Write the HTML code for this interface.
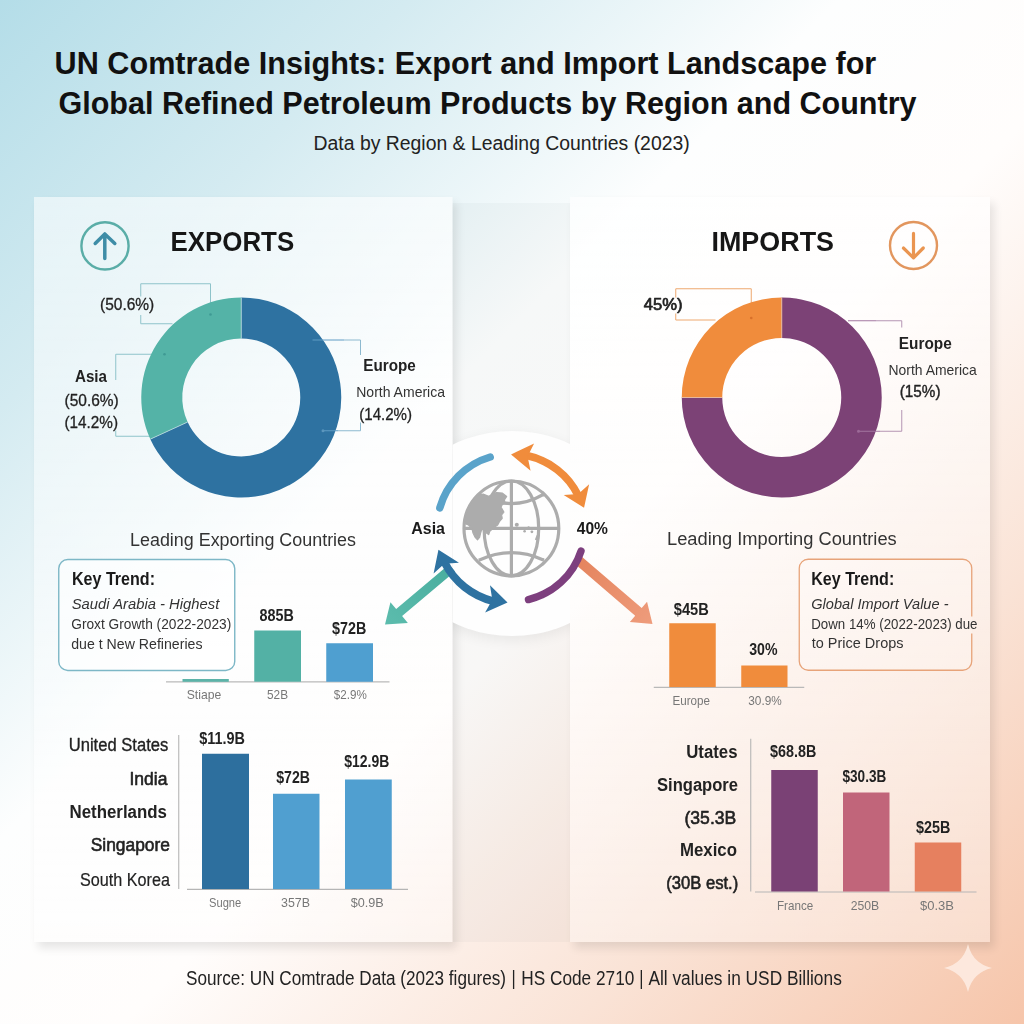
<!DOCTYPE html>
<html lang="en"><head><meta charset="utf-8"><title>UN Comtrade Insights</title>
<style>
html,body{margin:0;padding:0;width:1024px;height:1024px;overflow:hidden;background:#fff}
svg{display:block;position:absolute;left:0;top:0}
text{font-family:"Liberation Sans",sans-serif}
</style></head><body>
<svg width="1024" height="1024" viewBox="0 0 1024 1024">
<defs>
<linearGradient id="gb" gradientUnits="userSpaceOnUse" x1="0" y1="0" x2="1024" y2="1024"><stop offset="0" stop-color="#b4dde8"/><stop offset="0.2" stop-color="#d4ebf1"/><stop offset="0.41" stop-color="#fdfefe"/><stop offset="0.56" stop-color="#fffdfc"/><stop offset="0.78" stop-color="#fae3d6"/><stop offset="1" stop-color="#f6c5aa"/></linearGradient>
<filter id="sh" x="-10%" y="-10%" width="120%" height="120%"><feGaussianBlur in="SourceAlpha" stdDeviation="5"/><feOffset dx="4" dy="6"/><feComponentTransfer><feFuncA type="linear" slope="0.10"/></feComponentTransfer></filter>
<filter id="shc" x="-20%" y="-20%" width="140%" height="140%"><feGaussianBlur in="SourceAlpha" stdDeviation="7"/><feOffset dx="0" dy="4"/><feComponentTransfer><feFuncA type="linear" slope="0.07"/></feComponentTransfer></filter>
<linearGradient id="gc" x1="0" y1="0" x2="0" y2="1"><stop offset="0" stop-color="#fff" stop-opacity="0.57"/><stop offset="1" stop-color="#fff" stop-opacity="0.33"/></linearGradient>
<linearGradient id="gt" gradientUnits="userSpaceOnUse" x1="450" y1="570" x2="385" y2="625"><stop offset="0" stop-color="#4aae9f"/><stop offset="1" stop-color="#5cbcad"/></linearGradient>
<linearGradient id="gs" gradientUnits="userSpaceOnUse" x1="581" y1="562" x2="652" y2="624"><stop offset="0" stop-color="#e5855f"/><stop offset="1" stop-color="#ee9c7c"/></linearGradient>
</defs>
<rect width="1024" height="1024" fill="#ffffff"/>
<rect width="1024" height="1024" fill="url(#gb)"/>

<text x="54.60" y="73.60" font-size="31.0" font-weight="bold" fill="#111" textLength="821.70" lengthAdjust="spacingAndGlyphs">UN Comtrade Insights: Export and Import Landscape for</text>
<text x="58.50" y="113.80" font-size="31.0" font-weight="bold" fill="#111" textLength="858.00" lengthAdjust="spacingAndGlyphs">Global Refined Petroleum Products by Region and Country</text>
<text x="313.60" y="149.80" font-size="19.5" font-weight="normal" fill="#222" textLength="376.10" lengthAdjust="spacingAndGlyphs">Data by Region &amp; Leading Countries (2023)</text>
<mask id="mk" maskUnits="userSpaceOnUse" x="0" y="0" width="1024" height="1024"><rect width="1024" height="1024" fill="#fff"/><rect x="34" y="197" width="418.5" height="745" fill="#000"/><rect x="570" y="197" width="420" height="745" fill="#000"/></mask>
<g mask="url(#mk)">
<rect x="34" y="197" width="418.5" height="745" fill="#000" filter="url(#sh)"/>
<rect x="570" y="197" width="420" height="745" fill="#000" filter="url(#sh)"/>
</g>
<rect x="34" y="197" width="418.5" height="745" fill="url(#gc)"/>
<rect x="570" y="197" width="420" height="745" fill="url(#gc)"/>
<rect x="452.5" y="203" width="117.5" height="739" fill="#5a6a70" fill-opacity="0.045"/>
<clipPath id="gap"><rect x="452.5" y="380" width="117.5" height="320"/></clipPath>
<g clip-path="url(#gap)"><ellipse cx="512" cy="533.5" rx="119" ry="102.5" fill="#000" filter="url(#shc)"/>
<ellipse cx="512" cy="533.5" rx="119" ry="102.5" fill="#fefefe"/></g>
<circle cx="105" cy="245.9" r="23.6" fill="none" stroke="#5aada7" stroke-width="2.4"/>
<path d="M104.8 258.6V235M95.2 243.5L104.8 233.9L114.8 243.5" fill="none" stroke="#3e8da7" stroke-width="3.5" stroke-linecap="round" stroke-linejoin="round"/>
<text x="170.50" y="250.90" font-size="27.5" font-weight="bold" fill="#161616" textLength="123.70" lengthAdjust="spacingAndGlyphs">EXPORTS</text>
<path d="M172.5 323.75H140.75V315M140.75 296.5V283.75H210.5V314.25" fill="none" stroke="#8ec3ca" stroke-width="1"/>
<path d="M165 354.25H115.75V380M115.75 430.5V436.25H152" fill="none" stroke="#8ec3ca" stroke-width="1"/>
<path d="M344 340H360.5V355M360.5 422.5V430.75H338" fill="none" stroke="#8db9cf" stroke-width="1"/>
<path d="M150.33 439.13A100 100 0 0 1 241.25 297.50L241.25 338.50A59 59 0 0 0 187.61 422.06Z" fill="#54b3a7"/>
<path d="M241.25 297.50A100 100 0 1 1 150.33 439.13L187.61 422.06A59 59 0 1 0 241.25 338.50Z" fill="#2e72a1"/>
<line x1="241.25" y1="338.50" x2="241.25" y2="297.50" stroke="#bfe0e0" stroke-width="0.8"/>
<line x1="187.61" y1="422.06" x2="150.33" y2="439.13" stroke="#bfe0e0" stroke-width="0.8"/>
<path d="M312.5 340H344M338 430.75H322.5" fill="none" stroke="#5f9cc4" stroke-width="1"/>
<circle cx="210.5" cy="314.5" r="1.3" fill="#3f9a94"/><circle cx="164.5" cy="354.25" r="1.3" fill="#3f9a94"/><circle cx="323" cy="430.75" r="1.5" fill="#5b96bd"/>
<text x="100.00" y="310.00" font-size="16.6" font-weight="normal" fill="#222" textLength="54.25" lengthAdjust="spacingAndGlyphs" stroke="#222" stroke-width="0.3" stroke-linejoin="round">(50.6%)</text>
<text x="75.00" y="382.00" font-size="16.6" font-weight="bold" fill="#222" textLength="32.00" lengthAdjust="spacingAndGlyphs">Asia</text>
<text x="64.50" y="406.25" font-size="16.6" font-weight="normal" fill="#222" textLength="54.25" lengthAdjust="spacingAndGlyphs" stroke="#222" stroke-width="0.3" stroke-linejoin="round">(50.6%)</text>
<text x="64.50" y="427.50" font-size="16.6" font-weight="normal" fill="#222" textLength="53.50" lengthAdjust="spacingAndGlyphs" stroke="#222" stroke-width="0.3" stroke-linejoin="round">(14.2%)</text>
<text x="363.25" y="370.50" font-size="17.2" font-weight="bold" fill="#222" textLength="52.50" lengthAdjust="spacingAndGlyphs">Europe</text>
<text x="356.25" y="397.00" font-size="14.6" font-weight="normal" fill="#333" textLength="88.75" lengthAdjust="spacingAndGlyphs">North America</text>
<text x="359.25" y="420.00" font-size="16.6" font-weight="normal" fill="#222" textLength="52.75" lengthAdjust="spacingAndGlyphs" stroke="#222" stroke-width="0.3" stroke-linejoin="round">(14.2%)</text>
<text x="130.00" y="545.75" font-size="18.3" font-weight="normal" fill="#333" textLength="226.00" lengthAdjust="spacingAndGlyphs">Leading Exporting Countries</text>
<rect x="58.75" y="559.5" width="176" height="111" rx="9" fill="#ffffff" fill-opacity="0.55" stroke="#7db7c6" stroke-width="1.4"/>
<text x="72.00" y="585.30" font-size="17.8" font-weight="bold" fill="#1a1a1a" textLength="83.00" lengthAdjust="spacingAndGlyphs">Key Trend:</text>
<text x="71.75" y="608.75" font-size="15.3" font-weight="normal" fill="#333" textLength="147.50" lengthAdjust="spacingAndGlyphs" font-style="italic">Saudi Arabia - Highest</text>
<text x="71.25" y="628.70" font-size="15.3" font-weight="normal" fill="#333" textLength="160.00" lengthAdjust="spacingAndGlyphs">Groxt Growth (2022-2023)</text>
<text x="71.25" y="648.50" font-size="15.3" font-weight="normal" fill="#333" textLength="131.25" lengthAdjust="spacingAndGlyphs">due t New Refineries</text>
<line x1="166" y1="681.9" x2="389.5" y2="681.9" stroke="#b9b9b9" stroke-width="1.2"/>
<rect x="182.5" y="679" width="46.3" height="2.8" fill="#5cb3a8"/>
<rect x="254.25" y="630.5" width="46.75" height="51.2" fill="#53b1a5"/>
<rect x="326.25" y="643.25" width="46.75" height="38.5" fill="#4f9fd0"/>
<text x="259.50" y="621.25" font-size="15.8" font-weight="bold" fill="#222" textLength="34.25" lengthAdjust="spacingAndGlyphs">885B</text>
<text x="332.00" y="634.25" font-size="15.8" font-weight="bold" fill="#222" textLength="34.25" lengthAdjust="spacingAndGlyphs">$72B</text>
<text x="186.75" y="698.75" font-size="12.9" font-weight="normal" fill="#777777" textLength="34.50" lengthAdjust="spacingAndGlyphs">Stiape</text>
<text x="267.00" y="699.00" font-size="12.9" font-weight="normal" fill="#777777" textLength="21.00" lengthAdjust="spacingAndGlyphs">52B</text>
<text x="333.75" y="699.00" font-size="12.9" font-weight="normal" fill="#777777" textLength="33.00" lengthAdjust="spacingAndGlyphs">$2.9%</text>
<line x1="178.75" y1="735" x2="178.75" y2="889" stroke="#b5b5b5" stroke-width="1.1"/>
<line x1="187" y1="889.4" x2="408" y2="889.4" stroke="#b5b5b5" stroke-width="1.2"/>
<rect x="202" y="753.75" width="47" height="135.3" fill="#2d6f9e"/>
<rect x="273" y="793.75" width="46.5" height="95.3" fill="#509fd0"/>
<rect x="345" y="779.5" width="46.75" height="109.5" fill="#509fd0"/>
<text x="68.75" y="750.50" font-size="18.3" font-weight="normal" fill="#222" textLength="99.50" lengthAdjust="spacingAndGlyphs" stroke="#222" stroke-width="0.35" stroke-linejoin="round">United States</text>
<text x="129.50" y="785.00" font-size="18.3" font-weight="normal" fill="#222" textLength="38.00" lengthAdjust="spacingAndGlyphs" stroke="#222" stroke-width="0.6" stroke-linejoin="round">India</text>
<text x="69.50" y="817.50" font-size="18.3" font-weight="bold" fill="#222" textLength="97.50" lengthAdjust="spacingAndGlyphs">Netherlands</text>
<text x="90.75" y="851.25" font-size="18.3" font-weight="normal" fill="#222" textLength="79.25" lengthAdjust="spacingAndGlyphs" stroke="#222" stroke-width="0.6" stroke-linejoin="round">Singapore</text>
<text x="80.00" y="885.50" font-size="18.3" font-weight="normal" fill="#222" textLength="90.00" lengthAdjust="spacingAndGlyphs" stroke="#222" stroke-width="0.2" stroke-linejoin="round">South Korea</text>
<text x="199.25" y="743.75" font-size="16.2" font-weight="bold" fill="#222" textLength="45.75" lengthAdjust="spacingAndGlyphs">$11.9B</text>
<text x="276.25" y="782.50" font-size="16.2" font-weight="bold" fill="#222" textLength="33.75" lengthAdjust="spacingAndGlyphs">$72B</text>
<text x="344.25" y="767.00" font-size="16.2" font-weight="bold" fill="#222" textLength="45.00" lengthAdjust="spacingAndGlyphs">$12.9B</text>
<text x="209.00" y="906.50" font-size="12.9" font-weight="normal" fill="#777777" textLength="32.25" lengthAdjust="spacingAndGlyphs">Sugne</text>
<text x="281.00" y="906.50" font-size="12.9" font-weight="normal" fill="#777777" textLength="29.00" lengthAdjust="spacingAndGlyphs">357B</text>
<text x="350.80" y="906.50" font-size="12.9" font-weight="normal" fill="#777777" textLength="33.00" lengthAdjust="spacingAndGlyphs">$0.9B</text>
<text x="711.50" y="251.30" font-size="27.5" font-weight="bold" fill="#161616" textLength="122.50" lengthAdjust="spacingAndGlyphs">IMPORTS</text>
<circle cx="913.5" cy="245.5" r="23.5" fill="none" stroke="#e2965e" stroke-width="2.4"/>
<path d="M913.5 233.4V257M903.4 248L913.5 257.8L923.3 248" fill="none" stroke="#ea9550" stroke-width="3.2" stroke-linecap="round" stroke-linejoin="round"/>
<path d="M715.5 320H675.75V313.5M675.75 297.5V288.75H751.25V318" fill="none" stroke="#eea86f" stroke-width="1"/>
<path d="M876 320.75H901.75V327.5M901.75 410V431.25H880" fill="none" stroke="#b594b3" stroke-width="1"/>
<path d="M681.75 397.50A100 100 0 0 1 781.75 297.50L781.75 338.00A59.5 59.5 0 0 0 722.25 397.50Z" fill="#f08c3c"/>
<path d="M781.75 297.50A100 100 0 1 1 681.75 397.50L722.25 397.50A59.5 59.5 0 1 0 781.75 338.00Z" fill="#7c4276"/>
<line x1="781.75" y1="338.00" x2="781.75" y2="297.50" stroke="#f3c7a6" stroke-width="0.8"/>
<line x1="722.25" y1="397.50" x2="681.75" y2="397.50" stroke="#f3c7a6" stroke-width="0.8"/>
<path d="M848 320.75H876M880 431.25H858" fill="none" stroke="#a377a0" stroke-width="1"/>
<circle cx="751.25" cy="318" r="1.3" fill="#d8702a"/><circle cx="858.5" cy="431.25" r="1.5" fill="#9c6a98"/>
<text x="643.75" y="309.50" font-size="16.6" font-weight="normal" fill="#222" textLength="38.75" lengthAdjust="spacingAndGlyphs" stroke="#222" stroke-width="0.7" stroke-linejoin="round">45%)</text>
<text x="898.75" y="348.75" font-size="17.2" font-weight="bold" fill="#222" textLength="53.00" lengthAdjust="spacingAndGlyphs">Europe</text>
<text x="888.50" y="375.00" font-size="14.6" font-weight="normal" fill="#333" textLength="88.25" lengthAdjust="spacingAndGlyphs">North America</text>
<text x="899.75" y="397.00" font-size="16.6" font-weight="normal" fill="#222" textLength="40.75" lengthAdjust="spacingAndGlyphs" stroke="#222" stroke-width="0.4" stroke-linejoin="round">(15%)</text>
<text x="667.00" y="545.00" font-size="18.3" font-weight="normal" fill="#333" textLength="229.75" lengthAdjust="spacingAndGlyphs">Leading Importing Countries</text>
<rect x="799.25" y="559.25" width="172.5" height="111" rx="9" fill="#ffffff" fill-opacity="0.18"/>
<path d="M971.75 633.5V661.25a9 9 0 0 1 -9 9H808.25a9 9 0 0 1 -9 -9V568.25a9 9 0 0 1 9 -9H962.75a9 9 0 0 1 9 9V616.5" fill="none" stroke="#e7a379" stroke-width="1.3"/>
<text x="811.25" y="585.30" font-size="17.8" font-weight="bold" fill="#1a1a1a" textLength="83.00" lengthAdjust="spacingAndGlyphs">Key Trend:</text>
<text x="811.25" y="608.75" font-size="15.3" font-weight="normal" fill="#333" textLength="137.25" lengthAdjust="spacingAndGlyphs" font-style="italic">Global Import Value -</text>
<text x="811.25" y="628.75" font-size="15.3" font-weight="normal" fill="#333" textLength="166.25" lengthAdjust="spacingAndGlyphs">Down 14% (2022-2023) due</text>
<text x="811.75" y="648.25" font-size="15.3" font-weight="normal" fill="#333" textLength="91.75" lengthAdjust="spacingAndGlyphs">to Price Drops</text>
<line x1="653.75" y1="687.4" x2="804.25" y2="687.4" stroke="#b9b9b9" stroke-width="1.2"/>
<rect x="669.25" y="623.25" width="46.5" height="63.8" fill="#f08c3c"/>
<rect x="741.25" y="665.5" width="46.25" height="21.5" fill="#f08c3c"/>
<text x="673.75" y="614.50" font-size="16.2" font-weight="bold" fill="#222" textLength="35.00" lengthAdjust="spacingAndGlyphs">$45B</text>
<text x="749.25" y="655.00" font-size="16.2" font-weight="bold" fill="#222" textLength="28.25" lengthAdjust="spacingAndGlyphs">30%</text>
<text x="672.50" y="705.00" font-size="12.9" font-weight="normal" fill="#777777" textLength="37.50" lengthAdjust="spacingAndGlyphs">Europe</text>
<text x="748.25" y="705.00" font-size="12.9" font-weight="normal" fill="#777777" textLength="33.50" lengthAdjust="spacingAndGlyphs">30.9%</text>
<line x1="750.75" y1="738.75" x2="750.75" y2="891.5" stroke="#b5b5b5" stroke-width="1.1"/>
<line x1="755" y1="892" x2="976.5" y2="892" stroke="#b5b5b5" stroke-width="1.2"/>
<rect x="771.25" y="770" width="46.5" height="121.5" fill="#7a4175"/>
<rect x="843" y="792.5" width="46.5" height="99" fill="#c1657a"/>
<rect x="914.75" y="842.5" width="46.5" height="49" fill="#e6805f"/>
<text x="686.25" y="757.50" font-size="18.3" font-weight="bold" fill="#222" textLength="51.25" lengthAdjust="spacingAndGlyphs">Utates</text>
<text x="657.00" y="791.25" font-size="18.3" font-weight="bold" fill="#222" textLength="81.00" lengthAdjust="spacingAndGlyphs">Singapore</text>
<text x="684.50" y="823.75" font-size="18.3" font-weight="normal" fill="#222" textLength="51.75" lengthAdjust="spacingAndGlyphs" stroke="#222" stroke-width="0.6" stroke-linejoin="round">(35.3B</text>
<text x="680.00" y="855.75" font-size="18.3" font-weight="bold" fill="#222" textLength="57.00" lengthAdjust="spacingAndGlyphs">Mexico</text>
<text x="666.25" y="888.75" font-size="18.3" font-weight="normal" fill="#222" textLength="72.00" lengthAdjust="spacingAndGlyphs" stroke="#222" stroke-width="0.6" stroke-linejoin="round">(30B est.)</text>
<text x="770.00" y="756.75" font-size="16.2" font-weight="bold" fill="#222" textLength="46.25" lengthAdjust="spacingAndGlyphs">$68.8B</text>
<text x="842.50" y="782.00" font-size="16.2" font-weight="bold" fill="#222" textLength="43.75" lengthAdjust="spacingAndGlyphs">$30.3B</text>
<text x="916.00" y="833.00" font-size="16.2" font-weight="bold" fill="#222" textLength="34.30" lengthAdjust="spacingAndGlyphs">$25B</text>
<text x="777.00" y="909.50" font-size="12.9" font-weight="normal" fill="#777777" textLength="36.25" lengthAdjust="spacingAndGlyphs">France</text>
<text x="850.75" y="909.50" font-size="12.9" font-weight="normal" fill="#777777" textLength="28.50" lengthAdjust="spacingAndGlyphs">250B</text>
<text x="920.00" y="910.00" font-size="12.9" font-weight="normal" fill="#777777" textLength="34.00" lengthAdjust="spacingAndGlyphs">$0.3B</text>
<path d="M449.03 564.48L396.18 609.06L390.44 602.25L385.00 624.50L407.85 622.89L402.11 616.09L454.97 571.52Z" fill="url(#gt)"/>
<path d="M574.74 563.80L635.20 615.65L629.86 621.88L652.50 623.90L647.05 601.84L641.71 608.06L581.26 556.20Z" fill="url(#gs)"/>
<g fill="none" stroke="#acacac" stroke-width="3.2">
<circle cx="511.4" cy="528.4" r="47.4"/>
<ellipse cx="511.4" cy="528.4" rx="27.3" ry="47.4"/>
<line x1="511.4" y1="481.0" x2="511.4" y2="575.8"/><line x1="464.0" y1="528.4" x2="558.8" y2="528.4"/>
<path d="M478.5 494Q511.4 513.4 544.3 494"/>
<path d="M478.8 560.2Q511.4 545 544 560.2"/>
</g>
<path d="M478.0 495.3L483.1 494.1L488.7 496.4L493.2 494.1L496.6 492.5L502.2 493.0L506.7 496.4L504.4 499.8L505.0 502.6L502.2 504.8L501.0 507.1L503.9 512.1L501.6 514.9L502.2 518.3L499.4 521.7L497.7 525.0L494.3 527.3L489.8 531.2L488.7 534.6L486.4 532.9L484.8 531.2L482.0 528.8L480.6 533L479.6 537.4L477.5 539.8L475.2 537.4L473.0 532.9L471.8 528.4L468.5 525.0L465.7 523.9L464.5 519.4L466.2 512.7L469.6 505.9L473.5 499.2Z" fill="#acacac" stroke="#acacac" stroke-width="1.2" stroke-linejoin="round"/>
<circle cx="516.8" cy="524.8" r="2" fill="#acacac"/><circle cx="524.6" cy="531.2" r="1.3" fill="#acacac"/><circle cx="531.9" cy="531.8" r="1.4" fill="#acacac"/><circle cx="528.6" cy="527.3" r="1.1" fill="#acacac"/><path d="M538.9 533.6L540 535.5L536.4 540.6L534.9 539.6L536.6 535.2Z" fill="#acacac"/>
<path d="M439.79 507.87A74.5 74.5 0 0 1 490.24 456.97" fill="none" stroke="#5aa3ca" stroke-width="7.4" stroke-linecap="round"/>
<path d="M581.02 551.02A73.2 73.2 0 0 1 528.49 599.58" fill="none" stroke="#7d3f7e" stroke-width="7.4" stroke-linecap="round"/>
<path d="M526.89 455.53A74.5 74.5 0 0 1 578.36 495.74" fill="none" stroke="#f08c3c" stroke-width="7.6" stroke-linecap="butt"/>
<path d="M511.01 454.40L534.10 443.47L527.58 456.54L530.57 470.84Z" fill="#f08c3c"/>
<path d="M584.05 507.84L563.68 494.88L578.27 493.99L589.15 484.25Z" fill="#f08c3c"/>
<path d="M493.26 601.17A75 75 0 0 1 444.57 562.45" fill="none" stroke="#2e72a1" stroke-width="7.8" stroke-linecap="butt"/>
<path d="M438.45 549.73L458.98 562.63L444.40 563.64L433.60 573.48Z" fill="#2e72a1"/>
<path d="M507.52 602.50L485.13 612.51L492.29 599.77L489.99 585.34Z" fill="#2e72a1"/>
<text x="411.25" y="533.75" font-size="16.6" font-weight="bold" fill="#1a1a1a" textLength="33.75" lengthAdjust="spacingAndGlyphs">Asia</text>
<text x="576.75" y="533.75" font-size="16.6" font-weight="bold" fill="#1a1a1a" textLength="31.25" lengthAdjust="spacingAndGlyphs">40%</text>
<text y="985.1" font-size="19.5" fill="#222"><tspan x="186" textLength="320" lengthAdjust="spacingAndGlyphs">Source: UN Comtrade Data (2023 figures)</tspan><tspan x="511.6" textLength="4.2" lengthAdjust="spacingAndGlyphs">|</tspan><tspan x="521.3" textLength="113" lengthAdjust="spacingAndGlyphs">HS Code 2710</tspan><tspan x="639.2" textLength="4.2" lengthAdjust="spacingAndGlyphs">|</tspan><tspan x="648.4" textLength="193.4" lengthAdjust="spacingAndGlyphs">All values in USD Billions</tspan></text>
<path d="M968 944Q972.5 963.5 992 968Q972.5 972.5 968 992Q963.5 972.5 944 968Q963.5 963.5 968 944Z" fill="#fdebe1" fill-opacity="0.9"/>
</svg></body></html>
